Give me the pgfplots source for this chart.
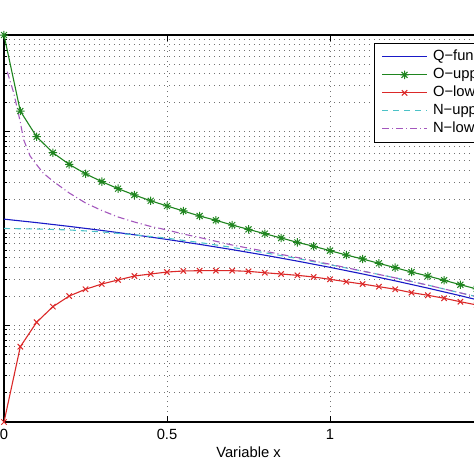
\documentclass[border=0pt]{standalone}
\usepackage{pgfplots}
\pgfplotsset{compat=1.18}
\usepackage{fontspec}
\setmainfont{Liberation Sans}

\definecolor{qblue}{rgb}{0.10,0.10,0.78}
\definecolor{ogreen}{rgb}{0.12,0.52,0.12}
\definecolor{ored}{rgb}{0.86,0.16,0.16}
\definecolor{ncyan}{rgb}{0.30,0.76,0.78}
\definecolor{npurple}{rgb}{0.64,0.34,0.74}

% eight-spoke asterisk (plus and cross together)
\pgfdeclareplotmark{aster8}{%
  \pgfpathmoveto{\pgfqpoint{-\pgfplotmarksize}{0pt}}%
  \pgfpathlineto{\pgfqpoint{\pgfplotmarksize}{0pt}}%
  \pgfpathmoveto{\pgfqpoint{0pt}{-\pgfplotmarksize}}%
  \pgfpathlineto{\pgfqpoint{0pt}{\pgfplotmarksize}}%
  \pgfpathmoveto{\pgfqpoint{-0.7071\pgfplotmarksize}{-0.7071\pgfplotmarksize}}%
  \pgfpathlineto{\pgfqpoint{0.7071\pgfplotmarksize}{0.7071\pgfplotmarksize}}%
  \pgfpathmoveto{\pgfqpoint{-0.7071\pgfplotmarksize}{0.7071\pgfplotmarksize}}%
  \pgfpathlineto{\pgfqpoint{0.7071\pgfplotmarksize}{-0.7071\pgfplotmarksize}}%
  \pgfusepathqstroke}

\newcommand{\lblfont}{\fontsize{14.8}{17}\selectfont}

\begin{document}
\begin{tikzpicture}
\useasboundingbox (-4bp,-52bp) rectangle (470bp,422bp);
\clip (-4bp,-52bp) rectangle (470bp,422bp);
\begin{axis}[
  at={(0bp,0bp)}, anchor=south west,
  scale only axis,
  width=489bp, height=387bp,
  xmin=0, xmax=1.5,
  ymode=log, ymin=1e-3, ymax=10,
  xtick={0,0.5,1},
  xticklabels={0,0.5,1},
  yticklabels={},
  /pgf/number format/assume math mode=true,
  tick label style={font=\lblfont},
  xticklabel style={yshift=-4bp},
  label style={font=\lblfont},
  xlabel={Variable x},
  tick align=inside,
  major tick length=6bp,
  minor tick length=3bp,
  tick style={black, line width=0.8bp},
  axis line style={black, line width=1.1bp},
  grid=both,
  major grid style={black!55, line width=0.8bp, dash pattern=on 0.8bp off 4.2bp},
  minor grid style={black!55, line width=0.8bp, dash pattern=on 0.8bp off 4.2bp},
  legend cell align=left,
  legend image code/.code={%
    \draw[mark repeat=2,mark phase=2] plot coordinates {(0bp,0bp) (22.5bp,0bp) (45bp,0bp)};},
  legend style={at={(0.7566,0.979)}, anchor=north west, draw=black,
    line width=1bp, font=\lblfont, inner xsep=7bp, inner ysep=4.5bp,
    row sep=0.5bp, column sep=4bp,
    nodes={inner sep=1.5bp, text height=11bp, text depth=3.5bp}},
]

\addplot[qblue, line width=1.1bp] coordinates {
(0.0,0.12500) (0.1,0.11505) (0.2,0.10518) (0.3,0.09553) (0.4,0.08615)
(0.5,0.07713) (0.6,0.06858) (0.7,0.06050) (0.8,0.05297) (0.9,0.04603)
(1.0,0.03967) (1.1,0.03392) (1.2,0.02877) (1.3,0.02420) (1.4,0.02020)
(1.5,0.01670)
};
\addlegendentry{Q−function}

\addplot[ogreen, line width=1.1bp, mark=aster8, mark size=4.2bp,
  mark options={line width=1bp}] coordinates {
(0.00,10.0) (0.05,1.637) (0.10,0.889) (0.15,0.607) (0.20,0.460)
(0.25,0.368) (0.30,0.305) (0.35,0.258) (0.40,0.222) (0.45,0.1935)
(0.50,0.171) (0.55,0.1517) (0.60,0.1346) (0.65,0.1216) (0.70,0.1086)
(0.75,0.0979) (0.80,0.0883) (0.85,0.0798) (0.90,0.0719) (0.95,0.0655)
(1.00,0.0590) (1.05,0.0532) (1.10,0.0484) (1.15,0.04365) (1.20,0.03936)
(1.25,0.03548) (1.30,0.03228) (1.35,0.02917) (1.40,0.02624) (1.45,0.02371)
(1.50,0.02138)
};
\addlegendentry{O−upper bound}

\addplot[ored, line width=1.1bp, mark=x, mark size=3.8bp,
  mark options={line width=1bp}] coordinates {
(0.00,0.00100) (0.05,0.00600) (0.10,0.01074) (0.15,0.01556) (0.20,0.02004)
(0.25,0.02355) (0.30,0.02667) (0.35,0.02938) (0.40,0.03228) (0.45,0.03388)
(0.50,0.03548) (0.55,0.03639) (0.60,0.03664) (0.65,0.03664) (0.70,0.03664)
(0.75,0.03606) (0.80,0.03491) (0.85,0.03388) (0.90,0.03281) (0.95,0.03155)
(1.00,0.02985) (1.05,0.02818) (1.10,0.02667) (1.15,0.02506) (1.20,0.02355)
(1.25,0.02173) (1.30,0.02042) (1.35,0.01901) (1.40,0.01750) (1.45,0.01622)
(1.50,0.01479)
};
\addlegendentry{O−lower bound}

\addplot[ncyan, line width=1.1bp, dash pattern=on 6bp off 5bp] coordinates {
(0.0,0.1000) (0.1,0.0989) (0.2,0.0966) (0.3,0.0923) (0.4,0.0861)
(0.5,0.0794) (0.6,0.0716) (0.7,0.0638) (0.8,0.0562) (0.9,0.0490)
(1.0,0.0422) (1.1,0.0363) (1.2,0.0309) (1.3,0.0260) (1.4,0.0216)
(1.5,0.0180)
};
\addlegendentry{N−upper bound}

\addplot[npurple, line width=1.1bp, dash pattern=on 7bp off 3bp on 1bp off 3bp] coordinates {
(0.01,4.17) (0.03,2.512) (0.05,1.259) (0.06,0.832) (0.08,0.562)
(0.10,0.457) (0.12,0.375) (0.15,0.309) (0.20,0.233) (0.25,0.1837)
(0.30,0.1535) (0.35,0.1315) (0.40,0.1167) (0.45,0.1050) (0.50,0.0966)
(0.55,0.0877) (0.60,0.0807) (0.70,0.0675) (0.80,0.0582) (0.90,0.0501)
(1.00,0.0427) (1.10,0.0363) (1.20,0.0309) (1.30,0.0260) (1.40,0.0216)
(1.50,0.0180)
};
\addlegendentry{N−lower bound}

\end{axis}
\end{tikzpicture}
\end{document}
